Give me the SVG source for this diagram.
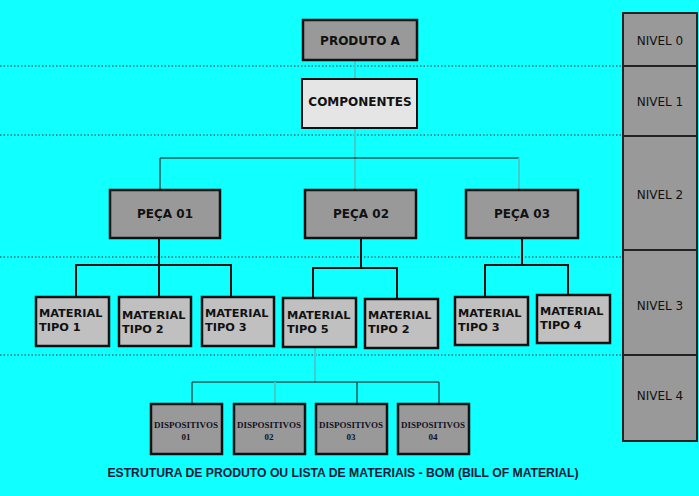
<svg xmlns="http://www.w3.org/2000/svg" width="699" height="496" viewBox="0 0 699 496">
<style>
text{font-family:"DejaVu Sans",Verdana,sans-serif;font-weight:bold;font-size:12px;fill:#111}
.mt{font-size:11.3px}
.d{font-family:"Liberation Serif",serif;font-size:9px;fill:#112}
.b{fill:#999;stroke:#111;stroke-width:2.5}
.m{fill:#c0c0c0;stroke:#111;stroke-width:2.5}
.lv{fill:#999;stroke:#222;stroke-width:2}
.dot{stroke:#333;stroke-width:1;stroke-dasharray:1.5 2}
.k{stroke:#111;stroke-width:2;fill:none}
.t{stroke:#111;stroke-width:1;fill:none}
.g{stroke:#4cc;stroke-width:2;fill:none}
</style>
<rect width="699" height="496" fill="#10ffff"/>
<g id="guides">
<line class="dot" x1="0" y1="66" x2="622" y2="66"/>
<line class="dot" x1="0" y1="135" x2="622" y2="135"/>
<line class="dot" x1="0" y1="257" x2="622" y2="257"/>
<line class="dot" x1="0" y1="355" x2="622" y2="355"/>
</g>
<g id="connectors">
<line class="g" x1="355" y1="60" x2="355" y2="79"/>
<line class="g" x1="355" y1="128" x2="355" y2="190"/>
<polyline class="t" points="160,190 160,158 519,158"/>
<line class="g" x1="519" y1="158" x2="519" y2="190"/>
<polyline class="k" points="76,296 76,265 231,265 231,296"/>
<line class="k" x1="159" y1="238" x2="159" y2="296"/>
<polyline class="k" points="313,297 313,268 397,268 397,298"/>
<line class="k" x1="361" y1="238" x2="361" y2="268"/>
<polyline class="k" points="485,296 485,265 568,265 568,294"/>
<line class="k" x1="522" y1="238" x2="522" y2="265"/>
<line class="g" x1="315" y1="347" x2="315" y2="382"/>
<polyline class="t" points="192,404 192,382 439,382 439,404"/>
<line class="g" x1="275" y1="382" x2="275" y2="404"/>
<line class="t" x1="357" y1="382" x2="357" y2="404"/>
</g>
<g id="produto"><rect class="b" x="303" y="20" width="114" height="40" stroke-width="1.5"/><text x="360" y="45" text-anchor="middle">PRODUTO A</text></g>
<g id="componentes"><rect x="302" y="79" width="115" height="49" fill="#e5e5e5" stroke="#111" stroke-width="2"/><text x="360" y="106" text-anchor="middle">COMPONENTES</text></g>
<g id="peca01"><rect class="b" x="110" y="190" width="110" height="48"/><text x="165" y="218" text-anchor="middle">PEÇA 01</text></g>
<g id="peca02"><rect class="b" x="305" y="190" width="111" height="48"/><text x="361" y="218" text-anchor="middle">PEÇA 02</text></g>
<g id="peca03"><rect class="b" x="466" y="190" width="112" height="48"/><text x="522" y="218" text-anchor="middle">PEÇA 03</text></g>
<g id="mt1"><rect class="m" x="36" y="297" width="73" height="49"/><text class="mt" x="39" y="317">MATERIAL</text><text class="mt" x="39" y="331">TIPO 1</text></g>
<g id="mt2"><rect class="m" x="119" y="297" width="72" height="49"/><text class="mt" x="122" y="319">MATERIAL</text><text class="mt" x="122" y="333">TIPO 2</text></g>
<g id="mt3"><rect class="m" x="202" y="297" width="72" height="49"/><text class="mt" x="205" y="317">MATERIAL</text><text class="mt" x="205" y="331">TIPO 3</text></g>
<g id="mt5"><rect class="m" x="283" y="298" width="73" height="49"/><text class="mt" x="287" y="319">MATERIAL</text><text class="mt" x="287" y="333">TIPO 5</text></g>
<g id="mt2b"><rect class="m" x="365" y="299" width="73" height="49"/><text class="mt" x="368" y="319">MATERIAL</text><text class="mt" x="368" y="333">TIPO 2</text></g>
<g id="mt3b"><rect class="m" x="455" y="297" width="73" height="48"/><text class="mt" x="458" y="317">MATERIAL</text><text class="mt" x="458" y="331">TIPO 3</text></g>
<g id="mt4"><rect class="m" x="537" y="295" width="73" height="48"/><text class="mt" x="540" y="315">MATERIAL</text><text class="mt" x="540" y="329">TIPO 4</text></g>
<g id="d1"><rect class="b" x="151" y="404" width="71" height="50"/><text class="d" x="186" y="428" text-anchor="middle">DISPOSITIVOS</text><text class="d" x="186" y="440" text-anchor="middle">01</text></g>
<g id="d2"><rect class="b" x="234" y="404" width="71" height="50"/><text class="d" x="269" y="428" text-anchor="middle">DISPOSITIVOS</text><text class="d" x="269" y="440" text-anchor="middle">02</text></g>
<g id="d3"><rect class="b" x="316" y="404" width="71" height="50"/><text class="d" x="351" y="428" text-anchor="middle">DISPOSITIVOS</text><text class="d" x="351" y="440" text-anchor="middle">03</text></g>
<g id="d4"><rect class="b" x="398" y="404" width="71" height="50"/><text class="d" x="433" y="428" text-anchor="middle">DISPOSITIVOS</text><text class="d" x="433" y="440" text-anchor="middle">04</text></g>
<g id="niveis">
<rect class="lv" x="623" y="13" width="74" height="53"/><text x="660" y="45" text-anchor="middle" style="font-weight:normal">NIVEL 0</text>
<rect class="lv" x="623" y="66" width="74" height="70"/><text x="660" y="106" text-anchor="middle" style="font-weight:normal">NIVEL 1</text>
<rect class="lv" x="623" y="136" width="74" height="114"/><text x="660" y="199" text-anchor="middle" style="font-weight:normal">NIVEL 2</text>
<rect class="lv" x="623" y="250" width="74" height="105"/><text x="660" y="310" text-anchor="middle" style="font-weight:normal">NIVEL 3</text>
<rect class="lv" x="623" y="355" width="74" height="86"/><text x="660" y="400" text-anchor="middle" style="font-weight:normal">NIVEL 4</text>
</g>
<text x="343" y="477" text-anchor="middle" style="font-family:'Liberation Sans',Arial,sans-serif;font-size:12.2px;fill:#0a1a3a">ESTRUTURA DE PRODUTO OU LISTA DE MATERIAIS - BOM (BILL OF MATERIAL)</text>
</svg>
